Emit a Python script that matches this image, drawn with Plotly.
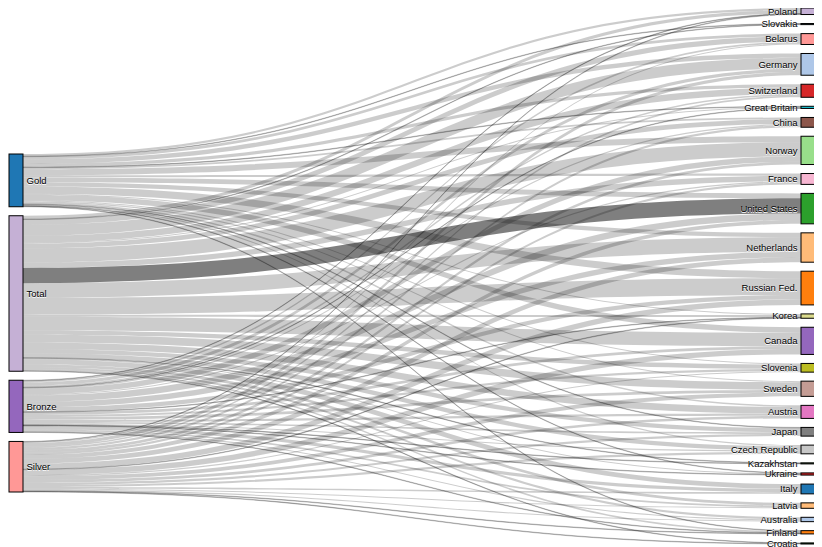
import plotly.graph_objects as go

# ---- data -------------------------------------------------------------
sources = ["Gold", "Total", "Bronze", "Silver"]
source_colors = ["#1f77b4", "#c5b0d5", "#9467bd", "#ff9896"]

countries = ["Poland", "Slovakia", "Belarus", "Germany", "Switzerland",
             "Great Britain", "China", "Norway", "France", "United States",
             "Netherlands", "Russian Fed.", "Korea", "Canada", "Slovenia",
             "Sweden", "Austria", "Japan", "Czech Republic", "Kazakhstan",
             "Ukraine", "Italy", "Latvia", "Australia", "Finland", "Croatia"]
gold = [4, 1, 5, 8, 6, 1, 3, 11, 4, 9, 8, 13, 2, 10, 2, 2, 3, 1, 2, 0, 1, 0, 0, 0, 1, 0]
silver = [1, 0, 2, 6, 3, 0, 4, 5, 4, 7, 9, 10, 1, 10, 2, 7, 5, 4, 4, 0, 0, 3, 2, 2, 1, 1]
bronze = [1, 0, 3, 6, 3, 1, 2, 10, 2, 12, 10, 8, 1, 5, 4, 5, 4, 3, 2, 1, 1, 6, 3, 2, 1, 0]
country_colors = ["#c5b0d5", "#9edae5", "#ff9896", "#aec7e8", "#d62728",
                  "#17becf", "#8c564b", "#98df8a", "#f7b6d2", "#2ca02c",
                  "#ffbb78", "#ff7f0e", "#dbdb8d", "#9467bd", "#bcbd22",
                  "#c49c94", "#e377c2", "#7f7f7f", "#c7c7c7", "#98df8a",
                  "#d62728", "#1f77b4", "#ffbb78", "#aec7e8", "#ff7f0e",
                  "#2ca02c"]
highlight = ("Total", "United States")

# ---- layout parameters -----------------------------------------------
W, HPX = 822, 547
MT, MB = 0, 11
H = HPX - MT - MB
PAD = 9
THICK = 14
HALF = THICK / 2
LEFT_CX, RIGHT_CX = 15, 807      # desired node centres (px)
LEFT_TOP = 153   # px offset of the first source node inside the plot area
RIGHT_TOP = 7    # px offset of the first country node inside the plot area


def darker(hexcol, k=2):
    f = 0.7 ** k
    r, g, b = (int(hexcol[i:i + 2], 16) for i in (1, 3, 5))
    return "rgb(%d,%d,%d)" % (r * f, g * f, b * f)


totals = [g + s + b for g, s, b in zip(gold, silver, bronze)]
per_source = {"Gold": gold, "Silver": silver, "Bronze": bronze, "Total": totals}

labels = sources + countries
colors = source_colors + country_colors

src, tgt, val, lcol = [], [], [], []
for si, sname in enumerate(sources):
    for ci, cname in enumerate(countries):
        v = per_source[sname][ci]
        if v > 0:
            src.append(si)
            tgt.append(len(sources) + ci)
            val.append(v)
            lcol.append("rgba(0,0,0,0.5)" if (sname, cname) == highlight
                        else "rgba(0,0,0,0.2)")

# node positions computed from the values (plotly offsets by half thickness)
right_vals = [2 * t for t in totals]
ky = (H - (len(countries) - 1) * PAD) / sum(right_vals)

left_vals = [sum(per_source[s]) for s in sources]
xs, ys = [], []
y = LEFT_TOP
for v in left_vals:
    h = v * ky
    xs.append((LEFT_CX - HALF) / W)
    ys.append((y + h / 2 - HALF) / H)
    y += h + PAD
y = RIGHT_TOP
for v in right_vals:
    h = v * ky
    xs.append((RIGHT_CX - HALF) / W)
    ys.append(max((y + h / 2 - HALF) / H, 1e-4))
    y += h + PAD

fig = go.Figure(go.Sankey(
    arrangement="fixed",
    node=dict(
        label=labels,
        color=colors,
        line=dict(color=[darker(c) for c in colors], width=1),
        pad=PAD,
        thickness=THICK,
        x=xs,
        y=ys,
        hoverinfo="none",
    ),
    link=dict(source=src, target=tgt, value=val, color=lcol, hoverinfo="none"),
    textfont=dict(family="Liberation Sans, Arial, sans-serif", size=9.5,
                  color="#000", shadow="0px 1px 0px #fff"),
))

fig.update_layout(
    width=W, height=HPX,
    margin=dict(l=0, r=0, t=MT, b=MB),
    paper_bgcolor="white",
    plot_bgcolor="white",
)

fig.write_html("out.html")
